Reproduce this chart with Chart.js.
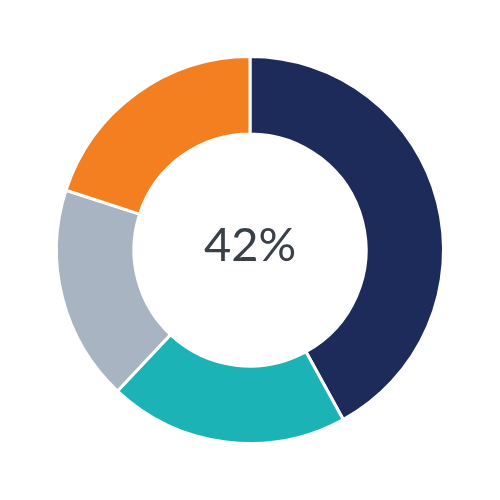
<!DOCTYPE html>
<html>
<head>
<meta charset="utf-8">
<script src="https://cdn.jsdelivr.net/npm/chart.js@4"></script>
<style>
  html, body { margin: 0; padding: 0; background: #fff; }
  #wrap { width: 500px; height: 500px; position: relative; }
</style>
</head>
<body>
<div id="wrap"><canvas id="donut"></canvas></div>
<script>
var labels = ["A", "B", "C", "D"];
var values = [42, 20, 18, 20];
var colors = ["#1c2b5a", "#1bb3b5", "#a9b4c2", "#f37f20"];
var centerText = "42%";

var centerLabel = {
  id: 'centerLabel',
  afterDraw: function(chart) {
    var ctx = chart.ctx;
    var meta = chart.getDatasetMeta(0).data[0];
    ctx.save();
    ctx.font = '400 47px Lato';
    ctx.fillStyle = '#3a4048';
    ctx.textAlign = 'center';
    ctx.textBaseline = 'middle';
    ctx.fillText(centerText, meta.x, meta.y - 4);
    ctx.restore();
  }
};

new Chart(document.getElementById("donut"), {
  type: 'doughnut',
  data: {
    labels: labels,
    datasets: [{
      data: values,
      backgroundColor: colors,
      borderColor: "#ffffff",
      borderWidth: 3
    }]
  },
  options: {
    responsive: true,
    maintainAspectRatio: false,
    animation: false,
    cutout: '60%',
    layout: { padding: 55 },
    plugins: {
      legend: { display: false },
      tooltip: { enabled: false }
    }
  },
  plugins: [centerLabel]
});
</script>
</body>
</html>
